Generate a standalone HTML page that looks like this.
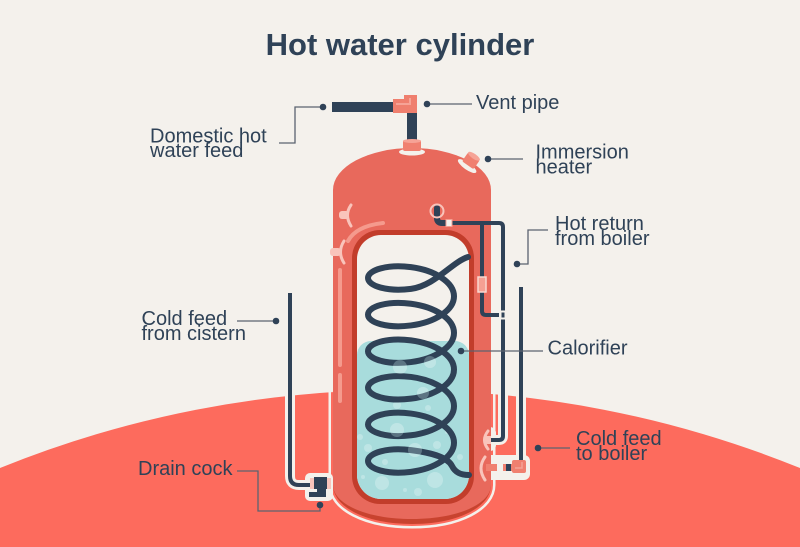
<!DOCTYPE html>
<html><head><meta charset="utf-8"><style>html,body{margin:0;padding:0;background:#f4f1ec;width:800px;height:547px;overflow:hidden;}svg{display:block}text{font-family:"Liberation Sans",sans-serif;fill:#2f4257;}</style></head>
<body>
<svg width="800" height="547" viewBox="0 0 800 547" xmlns="http://www.w3.org/2000/svg">
<defs>
<clipPath id="inner"><rect x="357" y="235" width="112" height="264" rx="24"/></clipPath>
<clipPath id="redbg"><path d="M0 468 A1065 1065 0 0 1 800 468 L800 547 L0 547 Z"/></clipPath>
</defs>
<rect width="800" height="547" fill="#f4f1ec"/>
<path d="M0 468 A1065 1065 0 0 1 800 468 L800 547 L0 547 Z" fill="#fd6b5d"/>

<!-- halos -->
<g fill="none" stroke="#f4f1ec" stroke-linecap="round" stroke-linejoin="round">
<path d="M333 190 A79 42 0 0 1 491 190 L491 485 C491 506 460 524 412 524 C364 524 333 506 333 485 Z" stroke-width="9" fill="#f4f1ec"/>
<path d="M290 293 L290 476 Q290 485 299 485 L312 485" stroke-width="10"/>
<path d="M503 227 L503 436 Q503 440 499 440 L489 440" stroke-width="10"/>
<path d="M521 287 L521 465" stroke-width="10"/>
</g>
<g clip-path="url(#redbg)">
<path d="M333 190 A79 42 0 0 1 491 190 L491 485 C491 506 460 524 412 524 C364 524 333 506 333 485 Z" fill="none" stroke="#fd6b5d" stroke-width="4"/>
</g>
<rect x="305" y="473" width="28" height="28" rx="5" fill="#f4f1ec"/>
<rect x="478" y="455" width="52" height="25" rx="6" fill="#f4f1ec"/>
<rect x="478" y="427" width="18" height="24" rx="6" fill="#f4f1ec"/>

<!-- body -->
<path d="M333 480 L333 485 C333 506 364 524 412 524 C460 524 491 506 491 485 L491 480 Z" fill="#c8432f"/>
<path d="M333 190 A79 42 0 0 1 491 190 L491 485 C491 503 460 519 412 519 C364 519 333 503 333 485 Z" fill="#e8695c"/>

<!-- highlights on body -->
<path d="M348 241 Q356 226 383 223" fill="none" stroke="#f59a8d" stroke-width="4" stroke-linecap="round"/>
<path d="M340 270 L340 365" stroke="#f59a8d" stroke-width="4" stroke-linecap="round"/>
<path d="M340 375 L340 401" stroke="#f59a8d" stroke-width="4" stroke-linecap="round"/>

<!-- inner tank -->
<rect x="352" y="230" width="122" height="274" rx="28" fill="#c23d2b"/>
<rect x="357" y="235" width="112" height="264" rx="24" fill="#f4f1ec"/>
<g clip-path="url(#inner)">
<rect x="357" y="341" width="112" height="158" rx="14" fill="#a8dcdc"/>
<g fill="#c4e8e8" opacity="0.8">
<circle cx="400" cy="367" r="7"/><circle cx="430" cy="362" r="6"/><circle cx="370" cy="383" r="3"/>
<circle cx="423" cy="393" r="6"/><circle cx="397" cy="405" r="4"/><circle cx="397" cy="430" r="7"/>
<circle cx="360" cy="437" r="3"/><circle cx="368" cy="448" r="4"/><circle cx="437" cy="445" r="4"/>
<circle cx="415" cy="450" r="7"/><circle cx="447" cy="432" r="2"/><circle cx="385" cy="462" r="3"/>
<circle cx="460" cy="457" r="3"/><circle cx="382" cy="483" r="7"/><circle cx="435" cy="480" r="8"/>
<circle cx="418" cy="492" r="4"/><circle cx="363" cy="477" r="2"/><circle cx="405" cy="490" r="2"/>
<circle cx="428" cy="408" r="3"/>
</g>
</g>

<!-- coil -->
<path d="M468 257 C452 262 434.75 285.8 411 288.85 C387.25 291.9 368 286 368 278 C368 270 387.25 264.1 411 267.15 C434.75 270.2 454 282.2 454 296.3 C454 310.4 434.75 322.4 411 325.45 C387.25 328.5 368 322.6 368 314.6 C368 306.6 387.25 300.7 411 303.75 C434.75 306.8 454 318.8 454 332.9 C454 347 434.75 359 411 362.05 C387.25 365.1 368 359.2 368 351.2 C368 343.2 387.25 337.3 411 340.35 C434.75 343.4 454 355.4 454 369.5 C454 383.6 434.75 395.6 411 398.65 C387.25 401.7 368 395.8 368 387.8 C368 379.8 387.25 373.9 411 376.95 C434.75 380 454 392 454 406.1 C454 420.2 434.75 432.2 411 435.25 C387.25 438.3 368 432.4 368 424.4 C368 416.4 387.25 410.5 411 413.55 C434.75 416.6 454 428.6 454 442.7 C454 456.8 434.75 468.8 411 471.85 C387.25 474.9 368 469 368 461 C368 453 387.25 447.1 411 450.15 C434.75 453.2 448 458 452 466 C455 472 460 475 469 475" fill="none" stroke="#2f4257" stroke-width="6" stroke-linecap="round" stroke-linejoin="round"/>
<g fill="#c4e8e8" opacity="0.3">
<circle cx="400" cy="367" r="7"/><circle cx="423" cy="393" r="6"/><circle cx="397" cy="430" r="7"/><circle cx="415" cy="450" r="7"/><circle cx="430" cy="362" r="6"/>
</g>

<!-- left fittings on body -->
<g fill="#f9c4bb" stroke="none">
<path d="M351 205 Q344 215 351 226" fill="none" stroke="#f9c4bb" stroke-width="3" stroke-linecap="round"/>
<rect x="339" y="211" width="10" height="8" rx="3"/>
<path d="M344 241 Q337 252 344 263" fill="none" stroke="#f9c4bb" stroke-width="3" stroke-linecap="round"/>
<rect x="330" y="248" width="11" height="8" rx="3"/>
</g>

<!-- pipes -->
<g fill="none" stroke="#2f4257" stroke-width="4" stroke-linecap="butt" stroke-linejoin="round">
<path d="M290 293 L290 476 Q290 485 299 485 L312 485"/>
<path d="M452 223 L499 223 Q503 223 503 227 L503 436 Q503 440 499 440 L489 440"/>
<path d="M482 223 L482 311 Q482 315 486 315 L499 315"/>
<path d="M521 287 L521 466"/>
</g>
<path d="M437 208 L437 218 Q437 223 442 223 L447 223" fill="none" stroke="#2f4257" stroke-width="6" stroke-linecap="round"/>
<circle cx="437" cy="211" r="6.5" fill="none" stroke="#f9c4bb" stroke-width="2"/>
<rect x="446" y="219.5" width="6" height="7" fill="#f4f1ec" stroke="#f5a093" stroke-width="1"/>
<rect x="478" y="277" width="8" height="15" fill="#f5a093" stroke="#f9d8d0" stroke-width="1.5"/>
<rect x="499.5" y="310.5" width="7" height="9" fill="#f4f1ec"/>
<rect x="501.5" y="312.5" width="3" height="5" fill="#2f4257"/>

<!-- lower left fitting -->
<rect x="310" y="478" width="4" height="11" fill="#f9c4bb"/>
<rect x="314" y="477" width="13" height="12" fill="#2f4257"/>
<rect x="327" y="478" width="4" height="11" fill="#f9c4bb"/>
<path d="M317 489 L326 489 L326 497 L309 497 L309 492 L317 492 Z" fill="#2f4257"/>

<!-- lower right fittings -->
<path d="M488 431 Q481 440 488 449" fill="none" stroke="#f9c4bb" stroke-width="3" stroke-linecap="round"/>
<rect x="486" y="436" width="5" height="8" fill="#f9c4bb"/>
<path d="M485 457 Q477 468 485 480" fill="none" stroke="#f9c4bb" stroke-width="3" stroke-linecap="round"/>
<rect x="486" y="464" width="28" height="7" fill="#f08070"/>
<rect x="497" y="464" width="6" height="7" fill="#f4f1ec"/>
<rect x="506" y="464" width="5" height="7" fill="#2f4257"/>
<rect x="512" y="460" width="14" height="13" rx="2" fill="#f08070"/>
<path d="M515 468 L522 468 L522 462" fill="none" stroke="#f6a396" stroke-width="1.5"/>

<!-- top vent -->
<rect x="332" y="102" width="64" height="10" fill="#2f4257"/>
<rect x="407" y="112" width="10" height="31" fill="#2f4257"/>
<rect x="393" y="99" width="24" height="14" fill="#ef7f6e"/>
<rect x="404" y="95" width="13" height="18" fill="#ef7f6e"/>
<path d="M396 104 L410 104 L410 98" fill="none" stroke="#f6a396" stroke-width="2"/>
<ellipse cx="412" cy="152" rx="13" ry="3.5" fill="#f4f1ec"/>
<rect x="403" y="140" width="18" height="11" rx="2" fill="#f08070"/>
<ellipse cx="412" cy="141" rx="9" ry="2" fill="#f6a396"/>

<!-- immersion heater -->
<g transform="rotate(35 470 162)">
<ellipse cx="470" cy="167" rx="11" ry="3.5" fill="#f4f1ec"/>
<rect x="463" y="155" width="14" height="11" rx="2" fill="#f08070"/>
<ellipse cx="470" cy="155" rx="7" ry="2.5" fill="#f6a396"/>
</g>

<!-- connectors -->
<g fill="none" stroke="#5b6370" stroke-width="1.3">
<path d="M427 104 L472 104"/>
<path d="M323 107 L295 107 L295 143 L279 143"/>
<path d="M488 159 L523 159"/>
<path d="M548 230 L528 230 L528 264 L517 264"/>
<path d="M461 351 L543 351"/>
<path d="M538 448 L570 448"/>
<path d="M237 321 L276 321"/>
<path d="M237 471 L258 471 L258 511 L320 511 L320 505"/>
</g>
<g fill="#2f4257">
<circle cx="427" cy="104" r="3.3"/><circle cx="323" cy="107" r="3.3"/><circle cx="488" cy="159" r="3.3"/>
<circle cx="517" cy="264" r="3.3"/><circle cx="461" cy="351" r="3.3"/><circle cx="538" cy="448" r="3.3"/>
<circle cx="276" cy="321" r="3.3"/><circle cx="320" cy="505" r="3.3"/>
</g>

<!-- labels -->
<text x="400" y="55" font-size="31" font-weight="bold" text-anchor="middle">Hot water cylinder</text>
<g font-size="20">
<text x="476" y="109">Vent pipe</text>
<text x="150" y="142.5">Domestic hot</text>
<text x="150" y="157">water feed</text>
<text x="535.5" y="158.5">Immersion</text>
<text x="535.5" y="173.5">heater</text>
<text x="555" y="230">Hot return</text>
<text x="555" y="245">from boiler</text>
<text x="547.5" y="354.5">Calorifier</text>
<text x="141.5" y="325">Cold feed</text>
<text x="141.5" y="340">from cistern</text>
<text x="138" y="475">Drain cock</text>
<text x="576" y="445">Cold feed</text>
<text x="576" y="460">to boiler</text>
</g>
</svg>
</body></html>
